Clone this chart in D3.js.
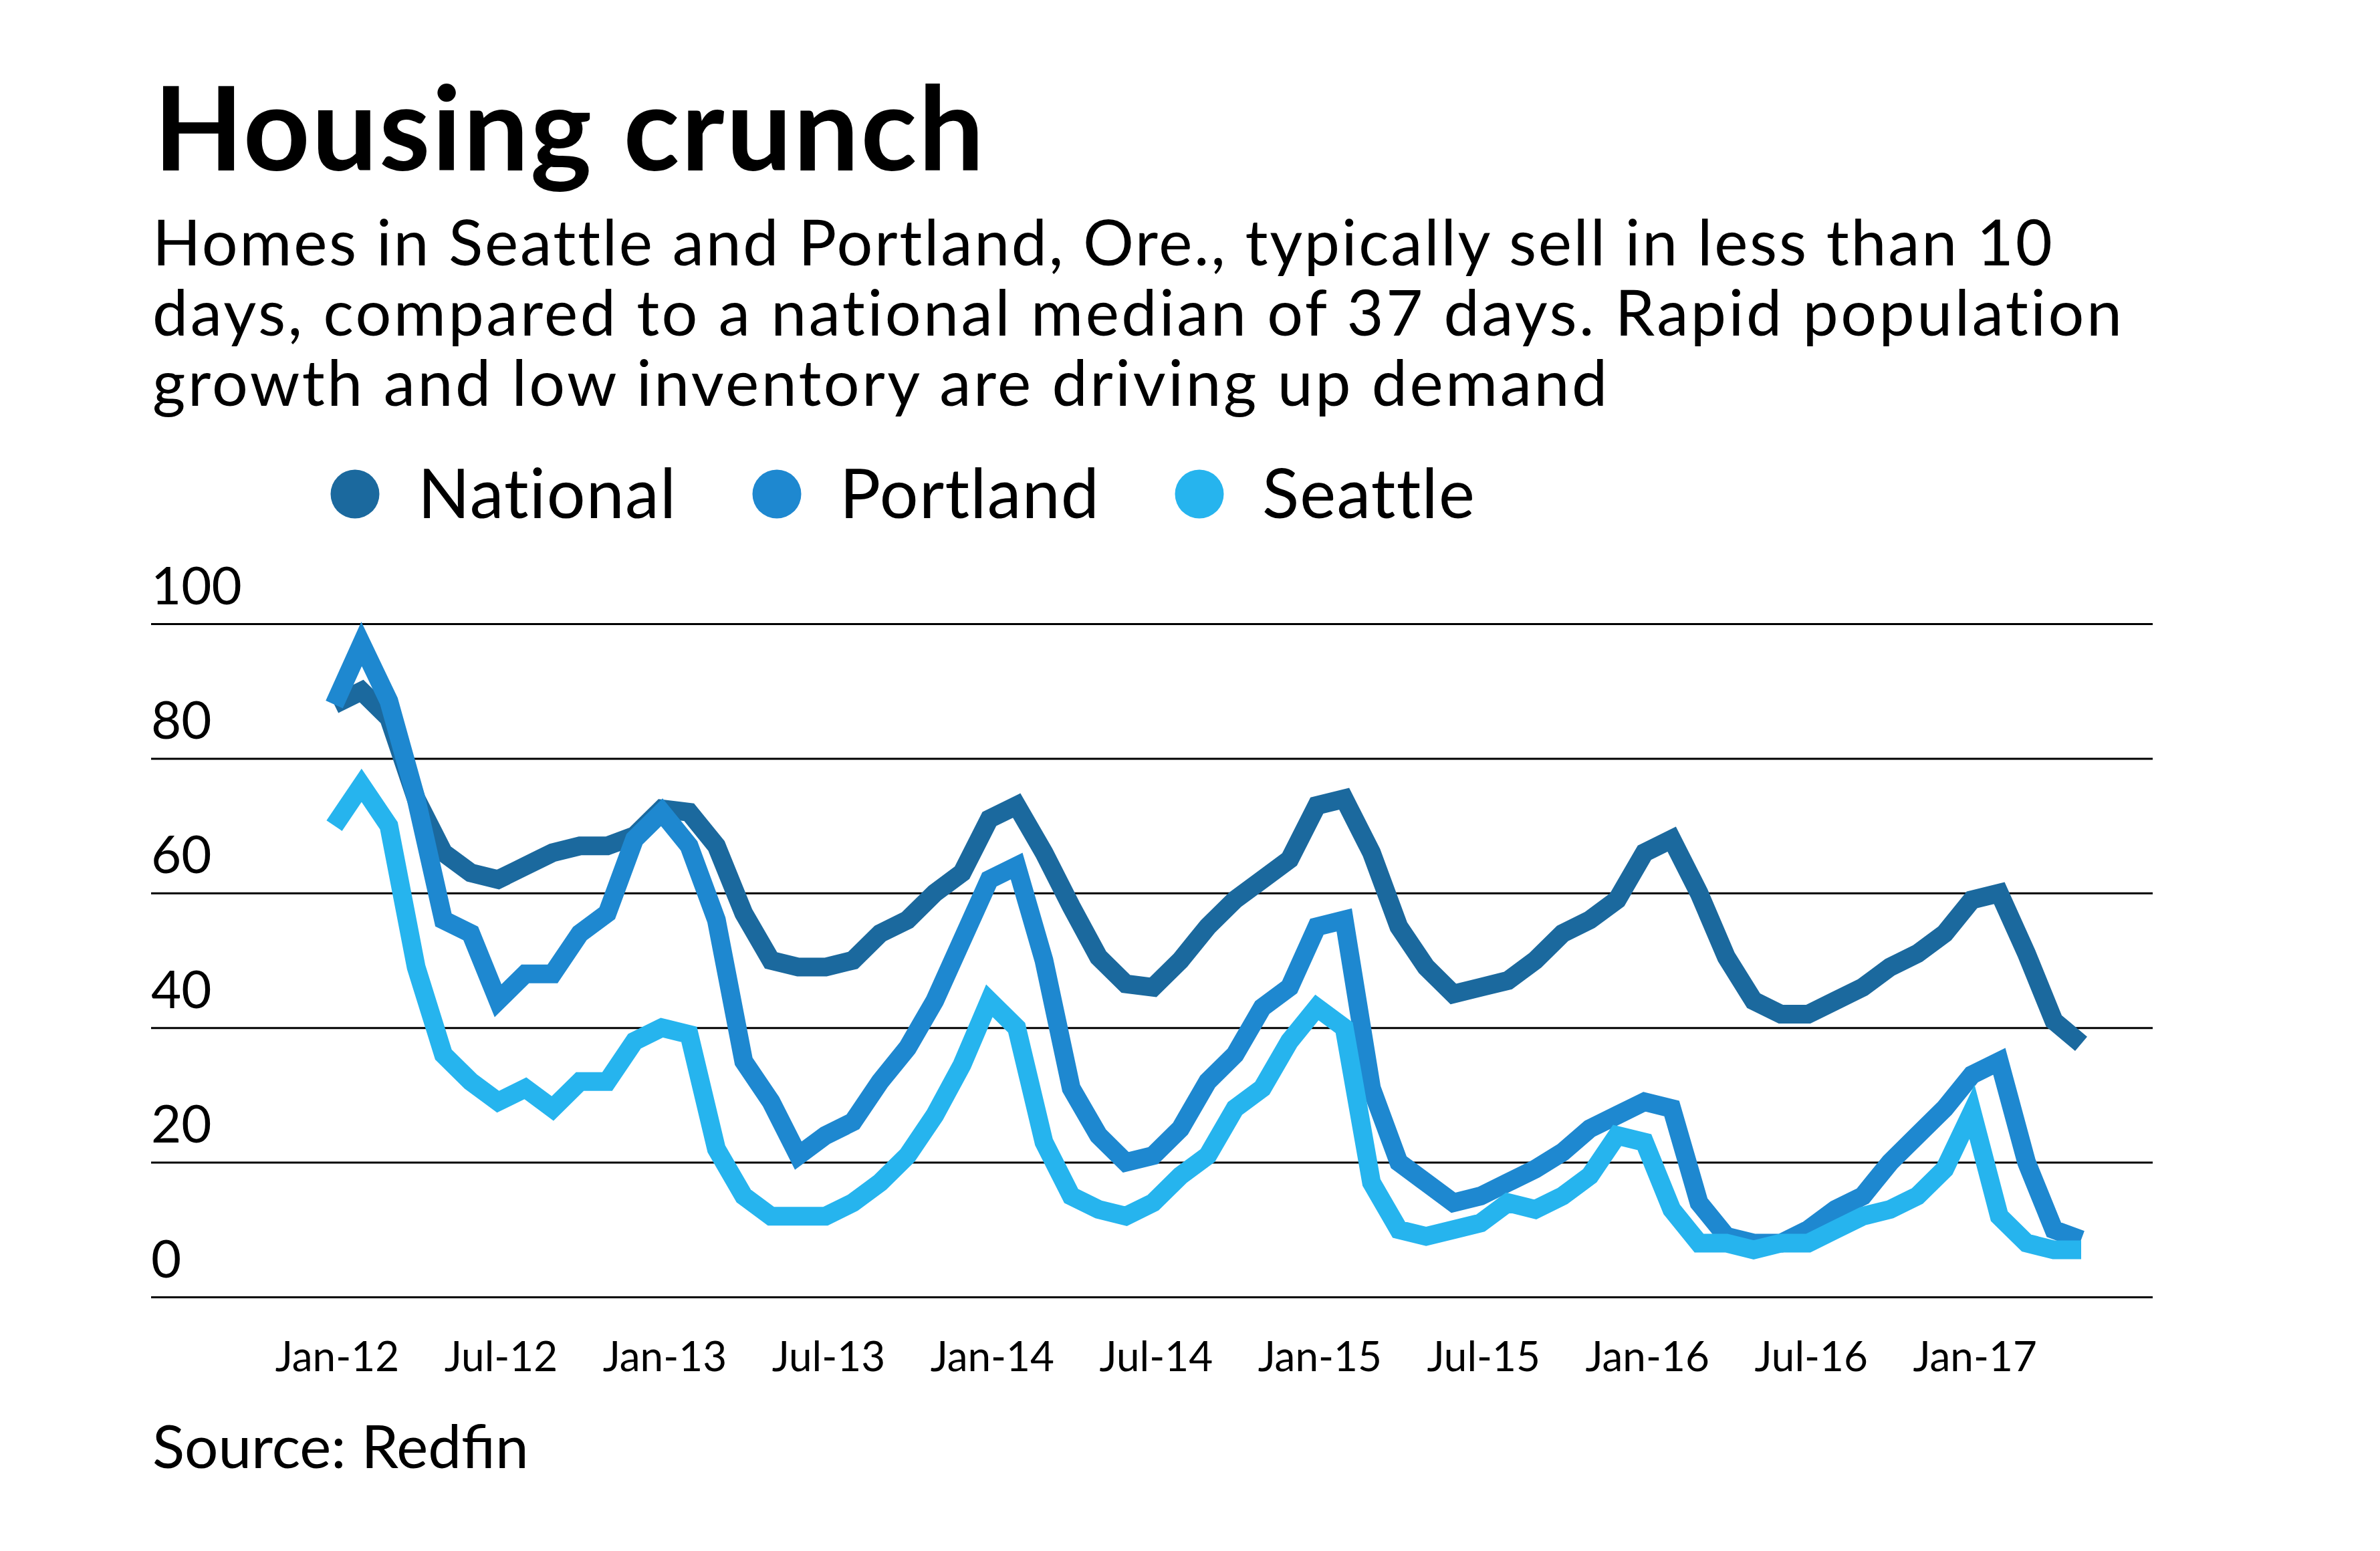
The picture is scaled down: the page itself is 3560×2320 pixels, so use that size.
<!DOCTYPE html>
<html>
<head>
<meta charset="utf-8">
<script src="https://cdn.jsdelivr.net/npm/d3@7"></script>
<style>
  html, body { margin: 0; padding: 0; background: #fff; }
  svg { display: block; font-family: Lato, "Noto Sans", sans-serif; }
</style>
</head>
<body>
<svg width="3560" height="2320"></svg>
<script>
// months Jan-12 .. May-17 (one point per month)
const months = d3.timeMonth.range(new Date(2012, 0, 1), new Date(2017, 5, 1));
const monthFmt = d3.timeFormat("%b-%y");

// median days on market
const national = [88, 90, 86, 74, 66, 63, 62, 64, 66, 67, 67, 68.5,
    72.5, 72, 67, 57, 50, 49, 49, 50, 54, 56, 60, 63,
    71, 73, 66, 58, 50.5, 46.5, 46, 50, 55, 59, 62, 65,
    73, 74, 66, 55, 49, 45, 46, 47, 50, 54, 56, 59,
    66, 68, 60, 50.5, 44, 42, 42, 44, 46, 49, 51, 54,
    59, 60, 51, 41, 37.6];
const portland = [88, 97, 88.5, 74, 56, 54, 44, 48, 48, 54, 57, 68,
    72, 67, 56, 35, 29, 21, 24, 26, 32, 37, 44, 53,
    62, 64, 50, 31, 24, 20, 21, 25, 32, 36, 43, 46,
    55, 56, 31, 20, 17, 14, 15, 17, 19, 21.5, 25, 27,
    29, 28, 14, 9, 8, 8, 10, 13, 15, 20, 24, 28,
    33, 35, 20, 10, 8.5];
const seattle = [70, 76, 70, 49, 36, 32, 29, 31, 28, 32, 32, 38,
    40, 39, 22, 15, 12, 12, 12, 14, 17, 21, 27, 34.5,
    44, 40, 23, 15, 13, 12, 14, 18, 21, 28, 31, 38,
    43, 40, 17, 10, 9, 10, 11, 14, 13, 15, 18, 24,
    23, 13, 8, 8, 7, 8, 8, 10, 12, 13, 15, 19,
    27.5, 12, 8, 7, 7];

const seriesNames = ["National", "Portland", "Seattle"];
const seriesColors = ["#1b699e", "#1e88d0", "#26b4ee"];
const yTicks = [0, 20, 40, 60, 80, 100];
const xTickLabels = ["Jan-12", "Jul-12", "Jan-13", "Jul-13", "Jan-14", "Jul-14",
    "Jan-15", "Jul-15", "Jan-16", "Jul-16", "Jan-17"];

const titleText = "Housing crunch";
const subtitleLines = [
    "Homes in Seattle and Portland, Ore., typically sell in less than 10",
    "days, compared to a national median of 37 days. Rapid population",
    "growth and low inventory are driving up demand"
];
const sourceText = "Source: Redfin";


function drawChart() {
    const svg = d3.select("svg");

    const area = {
        gridLeft: 226,
        gridRight: 3220,
        left: 500,
        right: 3113,
        top: 933,
        bottom: 1940
    };

    // header
    svg.append("text")
        .attr("x", 230)
        .attr("y", 255)
        .style("font-size", "174px")
        .style("font-weight", 700)
        .style("letter-spacing", "2.5px")
        .text(titleText);

    svg.selectAll(".subtitle")
        .data(subtitleLines)
        .enter()
        .append("text")
        .attr("class", "subtitle")
        .attr("x", 228)
        .attr("y", (d, i) => 397 + i * 105)
        .style("font-size", "95px")
        .style("letter-spacing", (d, i) => i == 0 ? "2.7px" : "3.5px")
        .text(d => d);

    // legend
    const legendX = [531, 1162, 1794];
    const legend = svg.selectAll(".legend")
        .data(seriesNames)
        .enter()
        .append("g")
        .attr("class", "legend")
        .attr("transform", (d, i) => `translate(${legendX[i]}, 739)`);
    legend.append("circle")
        .attr("r", 36.5)
        .style("fill", (d, i) => seriesColors[i]);
    legend.append("text")
        .attr("x", 94)
        .attr("y", 36)
        .style("font-size", "102px")
        .style("letter-spacing", "1.3px")
        .text(d => d);

    // scales
    const scaleX = d3.scalePoint()
        .domain(months.map(monthFmt))
        .range([area.left, area.right]);
    const scaleY = d3.scaleLinear()
        .domain([0, 100])
        .range([area.bottom, area.top]);

    // horizontal grid + y labels
    const axisY = d3.axisLeft(scaleY)
        .tickValues(yTicks)
        .tickSize(-(area.gridRight - area.gridLeft))
        .tickFormat(d3.format("d"));
    const gY = svg.append("g")
        .attr("transform", `translate(${area.gridLeft}, 0)`)
        .call(axisY);
    gY.select(".domain").remove();
    gY.selectAll("line")
        .style("stroke", "#000")
        .style("stroke-width", 3);
    gY.selectAll("text")
        .attr("x", 0)
        .attr("dy", "-30px")
        .style("text-anchor", "start")
        .style("font-family", "Lato, 'Noto Sans', sans-serif")
        .style("font-size", "78px")
        .style("fill", "#000");

    // x labels
    const axisX = d3.axisBottom(scaleX)
        .tickValues(xTickLabels)
        .tickSize(0);
    const gX = svg.append("g")
        .attr("transform", `translate(4, 2051)`)
        .call(axisX);
    gX.select(".domain").remove();
    gX.selectAll("text")
        .attr("y", 0)
        .attr("dy", 0)
        .style("font-family", "Lato, 'Noto Sans', sans-serif")
        .style("font-size", "62px")
        .style("fill", "#000");

    // lines: national under portland under seattle
    const allSeries = [national, portland, seattle];
    const line = d3.line()
        .x((d, i) => scaleX(monthFmt(months[i])))
        .y(d => scaleY(d));

    svg.selectAll(".series")
        .data(allSeries)
        .enter()
        .append("path")
        .attr("class", "series")
        .attr("d", d => line(d))
        .style("fill", "none")
        .style("stroke", (d, i) => seriesColors[i])
        .style("stroke-width", 28)
        .style("stroke-linejoin", "miter")
        .style("stroke-miterlimit", 10)
        .style("stroke-linecap", "butt");

    // source
    svg.append("text")
        .attr("x", 228)
        .attr("y", 2196)
        .style("font-size", "89px")
        .text(sourceText);
}

drawChart();
</script>
</body>
</html>
